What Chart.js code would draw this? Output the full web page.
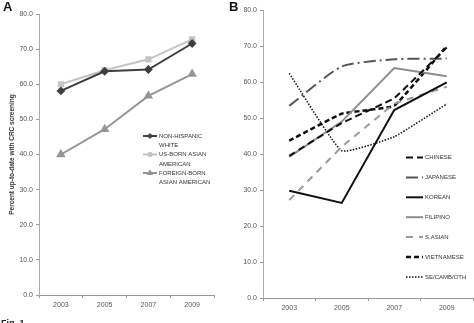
<!DOCTYPE html>
<html>
<head>
<meta charset="utf-8">
<script src="https://cdn.jsdelivr.net/npm/chart.js@4.4.1/dist/chart.umd.min.js"></script>
<style>
  html, body { margin: 0; padding: 0; background: #fff; }
  body { width: 474px; height: 323px; position: relative; overflow: hidden; font-family: "Liberation Sans", Arial, sans-serif; }
  .panel { position: absolute; top: 0; height: 323px; }
  #wrapA { left: 0; width: 237px; }
  #wrapB { left: 237px; width: 237px; }
  .lbl { position: absolute; font-weight: bold; color: #111; }
  #ttlA { left: 3px; top: -1px; font-size: 13px; }
  #ttlB { left: 229px; top: -1px; font-size: 13px; }
  #fig { left: 1px; top: 318px; font-size: 9px; color: #222; }
</style>
</head>
<body>
<div id="wrapA" class="panel"><canvas id="chartA"></canvas></div>
<div id="wrapB" class="panel"><canvas id="chartB"></canvas></div>
<div id="ttlA" class="lbl">A</div>
<div id="ttlB" class="lbl">B</div>
<div id="fig" class="lbl">Fig. 1</div>
<script>
// ---------- data ----------
const years = ["2003", "2005", "2007", "2009"];
const yTicks = [0, 10, 20, 30, 40, 50, 60, 70, 80];

// Panel A
const nonHispanicWhite = [58.1, 63.7, 64.2, 71.6];
const usBornAsian = [60.0, 64.0, 67.1, 72.8];
const foreignBornAsian = [40.0, 47.2, 56.7, 62.9];

// Panel B
const chinese = [39.5, 48.6, 55.5, 69.6];
const japanese = [53.4, 64.3, 66.3, 66.5];
const korean = [29.8, 26.4, 52.2, 59.9];
const filipino = [39.2, 49.0, 63.9, 61.6];
const sAsian = [27.2, 42.0, 54.0, 58.7];
const vietnamese = [43.7, 51.2, 53.4, 70.0];
const seCambOth = [62.4, 40.9, 44.8, 53.9];

const labelsA = [["NON-HISPANIC", "WHITE"], ["US-BORN ASIAN", "AMERICAN"], ["FOREIGN-BORN", "ASIAN AMERICAN"]];
const labelsB = ["CHINESE", "JAPANESE", "KOREAN", "FILIPINO", "S.ASIAN", "VIETNAMESE", "SE/CAMB/OTH"];

// ---------- defaults ----------
Chart.defaults.font.family = "'Liberation Sans', Arial, sans-serif";
Chart.defaults.color = "#555";
Chart.defaults.animation = false;

// custom legend drawn inside the plot
const innerLegend = {
  id: 'innerLegend',
  afterDraw(chart, args, opts) {
    const ctx = chart.ctx;
    const ds = chart.data.datasets;
    ctx.save();
    ctx.font = opts.fontSize + "px 'Liberation Sans', Arial, sans-serif";
    ctx.textBaseline = "middle";
    ds.forEach((d, i) => {
      const y = opts.y0 + i * opts.dy;
      const x0 = opts.x0, x1 = opts.x0 + opts.sw;
      ctx.save();
      ctx.strokeStyle = d.borderColor;
      ctx.lineWidth = d.borderWidth;
      ctx.setLineDash(d.borderDash || []);
      ctx.beginPath();
      ctx.moveTo(x0, y);
      ctx.lineTo(x1, y);
      ctx.stroke();
      ctx.restore();
      if (d.pointStyle && d.pointRadius > 0) {
        ctx.save();
        ctx.fillStyle = d.pointBackgroundColor;
        ctx.strokeStyle = d.borderColor;
        ctx.lineWidth = 1;
        Chart.helpers.drawPoint(ctx, { pointStyle: d.pointStyle, radius: d.pointRadius - 0.5, rotation: 0, borderWidth: 1 }, (x0 + x1) / 2, y);
        ctx.restore();
      }
      ctx.fillStyle = "#333";
      const lines = Array.isArray(d.label) ? d.label : [d.label];
      lines.forEach((t, k) => ctx.fillText(t, x1 + 2, y + k * opts.lh));
    });
    ctx.restore();
  }
};

function axisY(width, title) {
  return {
    min: 0, max: 80,
    afterBuildTicks: s => { s.ticks = yTicks.map(v => ({ value: v })); },
    afterFit: s => { s.width = width; },
    ticks: { font: { size: 7 }, color: "#555", padding: 3, callback: v => Number(v).toFixed(1) },
    grid: { drawOnChartArea: false, drawTicks: true, tickLength: 3, color: "#999" },
    border: { color: "#aaa", width: 1 },
    title: title ? { display: true, text: title, font: { size: 6.5, weight: 'bold' }, color: "#333", padding: { top: 8, bottom: 2 } } : { display: false }
  };
}
function axisX(height) {
  return {
    offset: true,
    afterFit: s => { s.height = height; },
    ticks: { font: { size: 7 }, color: "#555", padding: 3, maxRotation: 0 },
    grid: { offset: true, drawOnChartArea: false, drawTicks: true, tickLength: 3, color: "#999" },
    border: { color: "#999", width: 1 }
  };
}

// ---------- chart A ----------
new Chart(document.getElementById('chartA'), {
  type: 'line',
  data: {
    labels: years,
    datasets: [
      { label: labelsA[0], data: nonHispanicWhite, borderColor: "#3f3f3f", backgroundColor: "#3f3f3f",
        pointBackgroundColor: "#3f3f3f", pointBorderColor: "#3f3f3f", borderWidth: 2, pointStyle: 'rectRot', pointRadius: 3 },
      { label: labelsA[1], data: usBornAsian, borderColor: "#c4c4c4", backgroundColor: "#c4c4c4",
        pointBackgroundColor: "#c4c4c4", pointBorderColor: "#c4c4c4", borderWidth: 2, pointStyle: 'rect', pointRadius: 3 },
      { label: labelsA[2], data: foreignBornAsian, borderColor: "#959595", backgroundColor: "#959595",
        pointBackgroundColor: "#959595", pointBorderColor: "#959595", borderWidth: 2, pointStyle: 'triangle', pointRadius: 3.5 }
    ]
  },
  options: {
    responsive: true, maintainAspectRatio: false,
    layout: { padding: { left: 0, top: 14, right: 23, bottom: 0 } },
    plugins: { legend: { display: false }, tooltip: { enabled: false },
      innerLegend: { x0: 143, sw: 14, y0: 136, dy: 18.5, lh: 9.5, fontSize: 6 } },
    scales: { x: axisX(28), y: axisY(39, "Percent up-to-date with CRC screening") }
  },
  plugins: [innerLegend]
});

// ---------- chart B ----------
new Chart(document.getElementById('chartB'), {
  type: 'line',
  data: {
    labels: years,
    datasets: [
      { label: labelsB[0], data: chinese, borderColor: "#111", borderWidth: 2, borderDash: [7, 4], tension: 0.05, pointRadius: 0 },
      { label: labelsB[1], data: japanese, borderColor: "#555", borderWidth: 2, borderDash: [12, 4, 2, 4], tension: 0.2, pointRadius: 0 },
      { label: labelsB[2], data: korean, borderColor: "#111", borderWidth: 2, tension: 0, pointRadius: 0 },
      { label: labelsB[3], data: filipino, borderColor: "#8c8c8c", borderWidth: 2, tension: 0, pointRadius: 0 },
      { label: labelsB[4], data: sAsian, borderColor: "#9a9a9a", borderWidth: 2, borderDash: [7, 6], tension: 0, pointRadius: 0 },
      { label: labelsB[5], data: vietnamese, borderColor: "#111", borderWidth: 2.5, borderDash: [5, 3], tension: 0.08, pointRadius: 0 },
      { label: labelsB[6], data: seCambOth, borderColor: "#111", borderWidth: 1.5, borderDash: [1.5, 1.5], tension: 0.12, pointRadius: 0 }
    ]
  },
  options: {
    responsive: true, maintainAspectRatio: false,
    layout: { padding: { left: 0, top: 10, right: 1, bottom: 0 } },
    plugins: { legend: { display: false }, tooltip: { enabled: false },
      innerLegend: { x0: 169, sw: 17, y0: 157.5, dy: 19.9, lh: 8, fontSize: 6 } },
    scales: { x: axisX(25), y: axisY(26, null) }
  },
  plugins: [innerLegend]
});
</script>
</body>
</html>
